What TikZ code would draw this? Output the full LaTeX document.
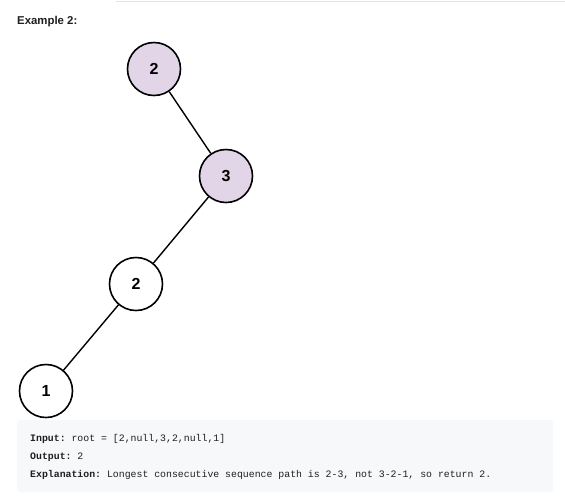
\documentclass[tikz,border=0pt]{standalone}
\usepackage{fontspec}
\setmainfont{Liberation Sans}
\setmonofont{Liberation Mono}
\usepackage{xcolor}
\usetikzlibrary{positioning}
\definecolor{nodepurple}{HTML}{E1D5E7}
\definecolor{codebg}{HTML}{F7F8FA}
\definecolor{codetext}{HTML}{1F1F1F}

\begin{document}
\begin{tikzpicture}[
  x=1pt, y=-1pt,
  tnode/.style={circle, draw, line width=1.6pt, minimum size=53pt, inner sep=0pt,
    font=\fontsize{16}{18}\selectfont\bfseries},
  hl/.style={tnode, fill=nodepurple},
  edge/.style={line width=1.4pt},
  code/.style={anchor=base west, inner sep=0pt, text=codetext,
    font=\ttfamily\fontsize{9.85}{12}\selectfont}
]
\useasboundingbox (0,0) rectangle (565,499);

\draw[gray!20, line width=1pt] (116,1) -- (565,1);
\node[anchor=base west, inner sep=0pt, font=\fontsize{11.4}{14}\selectfont\bfseries,
  text=codetext] (title) at (17,24) {Example 2:};

% tree
\node[hl] (n2a) at (154,69) {2};
\node[hl] (n3) at (226,176) {3};
\node[tnode] (n2b) at (136,284) {2};
\node[tnode] (n1) at (46,391) {1};

\draw[edge] (n2a) -- (n3);
\draw[edge] (n3) -- (n2b);
\draw[edge] (n2b) -- (n1);

% example box
\fill[codebg, rounded corners=3pt] (17,420) rectangle (553,492);
\node[code] (inp) at (30,441) {\textbf{Input:} root = [2,null,3,2,null,1]};
\node[code] (outp) at (30,459) {\textbf{Output:} 2};
\node[code] (expl) at (30,477) {\textbf{Explanation:} Longest consecutive sequence path is 2-3, not 3-2-1, so return 2.};
\end{tikzpicture}
\end{document}
